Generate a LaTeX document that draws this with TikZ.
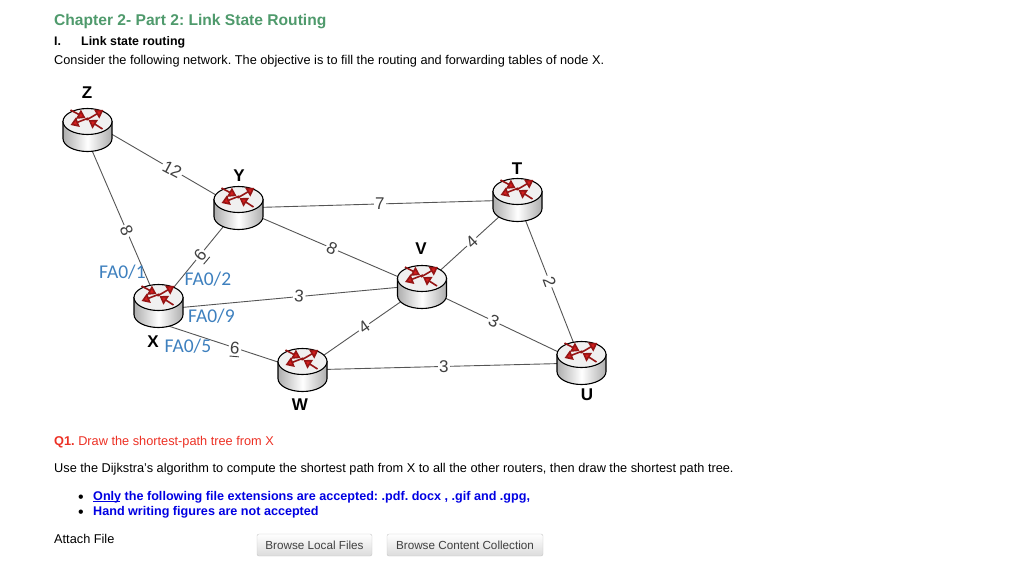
\documentclass[tikz,border=0pt]{standalone}
\usepackage{fontspec}
\setmainfont{Liberation Sans}
\newfontfamily\labelfont{Carlito}
\usetikzlibrary{arrows.meta}
\definecolor{titlegreen}{RGB}{79,154,108}
\definecolor{qred}{RGB}{236,48,36}
\definecolor{noteblue}{RGB}{0,0,226}
\definecolor{portblue}{RGB}{62,128,190}
\definecolor{arrowred}{RGB}{215,30,30}
\definecolor{wiregray}{RGB}{85,85,85}
\newcommand{\barsix}{\smash{\rlap{\rule[-3.2pt]{9.5pt}{.9pt}}}6}
\tikzset{
 router/.style={circle,minimum size=40pt,inner sep=0pt},
 rarrow/.style={arrowred!70!black,line width=1.6pt,-{Triangle[length=8pt,width=10pt,fill=arrowred]}},
 wire/.style={wiregray,line width=.9pt},
 cost/.style={fill=white,inner sep=1.5pt,text=black!75,font=\fontsize{17}{17}\selectfont},
 letter/.style={inner sep=0pt,font=\fontsize{17}{17}\selectfont\bfseries},
 port/.style={inner sep=0pt,anchor=base west,text=portblue,font=\labelfont\fontsize{19.5}{20}\selectfont},
 line/.style={inner sep=0pt,anchor=base west,font=\fontsize{12.75}{14}\selectfont},
 note/.style={line,text=noteblue,font=\fontsize{12.6}{14}\selectfont\bfseries},
 button/.style={draw=black!22,rounded corners=2pt,top color=white,bottom color=black!14,text=black!75,
  inner sep=0pt,minimum height=22pt,font=\fontsize{11.7}{13}\selectfont},
 routericon/.pic={
  \path[draw=black,line width=1.1pt,left color=black!32,right color=black!32,middle color=white]
   (-24.5,-8.5) -- (-24.5,8.5) arc[x radius=24.5,y radius=13,start angle=180,end angle=0] -- (24.5,-8.5) -- cycle;
  \draw[black,line width=1.1pt,fill=black!6] (0,-8.5) ellipse[x radius=24.5,y radius=13];
  \draw[rarrow] (-17,-20) -- (-2,-12);
  \draw[rarrow] (15,-1) -- (1,-10);
  \draw[rarrow] (-1,-10) -- (16,-20);
  \draw[rarrow] (1,-12) -- (-17,-5);
 }
}
\begin{document}
\frenchspacing
\begin{tikzpicture}[x=1pt,y=-1pt]
 \useasboundingbox (0,0) rectangle (1024,573);
 \node (title) [inner sep=0pt,anchor=base west,text=titlegreen,font=\fontsize{15.6}{16}\selectfont\bfseries] at (54,25) {Chapter 2- Part 2: Link State Routing};
 \node (secnum) [line,font=\fontsize{12.4}{14}\selectfont\bfseries] at (54,45) {I.};
 \node (sechead) [line,font=\fontsize{12.4}{14}\selectfont\bfseries] at (81,45) {Link state routing};
 \node (intro) [line] at (54,64.5) {Consider the following network. The objective is to fill the routing and forwarding tables of node X.};

 \node[router] (z) at (87.5,130) {};
 \node[router] (y) at (238.5,208) {};
 \node[router] (x) at (158.5,306) {};
 \node[router] (w) at (302.5,370) {};
 \node[router] (v) at (422,287) {};
 \node[router] (t) at (517.5,200) {};
 \node[router] (u) at (581.5,363) {};

 \draw[wire] (z.-5) -- node[cost,pos=.57,rotate=-28] {12} (y.150);
 \draw[wire] (z.-78) -- node[cost,pos=.59,rotate=-67] {8} (x.112);
 \draw[wire] (y.center) -- node[cost,pos=.48,rotate=50] {\barsix} (x.center);
 \draw[wire] (y.center) -- node[cost,pos=.507] {7} (t.center);
 \draw[wire] (y.center) -- node[cost,pos=.51,rotate=-27] {8} (v.center);
 \draw[wire] (x.-5) -- node[cost,pos=.54,rotate=-5] {3} (v.180);
 \draw[wire] (x.-70) -- node[cost,pos=.59,rotate=-5] {\barsix} (w.162);
 \draw[wire] (w.center) -- node[cost,pos=.515,rotate=35] {4} (v.center);
 \draw[wire] (v.center) -- node[cost,pos=.52,rotate=42] {4} (t.center);
 \draw[wire] (t.center) -- node[cost,pos=.5,rotate=-70] {2} (u.center);
 \draw[wire] (v.center) -- node[cost,pos=.45,rotate=-25] {3} (u.center);
 \draw[wire] (w.center) -- node[cost,pos=.507] {3} (u.center);

 \foreach \n in {z,y,x,w,v,t,u}
  \pic at (\n) {routericon};

 \node (zname) [letter] at (87,93) {Z};
 \node (yname) [letter] at (239,176) {Y};
 \node (tname) [letter] at (517,169) {T};
 \node (vname) [letter] at (421,249) {V};
 \node (xname) [letter] at (153,342) {X};
 \node (wname) [letter] at (300,405) {W};
 \node (uname) [letter] at (587,395) {U};

 \node (fa1) [port] at (99,278) {FA0/1};
 \node (fa2) [port] at (184.5,285) {FA0/2};
 \node (fa9) [port] at (188,322) {FA0/9};
 \node (fa5) [port] at (164.5,352) {FA0/5};

 \node (q1) [line,text=qred] at (54,445.5) {\textbf{Q1.} Draw the shortest-path tree from X};
 \node (dijkstra) [line] at (54,472.5) {Use the Dijkstra's algorithm to compute the shortest path from X to all the other routers, then draw the shortest path tree.};
 \node (bullet1) [line,font=\fontsize{16}{16}\selectfont] at (78,502.7) {•};
 \node (only) [note] at (93,500.5) {\smash{\rlap{\rule[-1.6pt]{27pt}{.7pt}}}Only the following file extensions are accepted: .pdf. docx , .gif and .gpg,};
 \node (bullet2) [line,font=\fontsize{16}{16}\selectfont] at (78,517.2) {•};
 \node (hand) [note] at (93,515) {Hand writing figures are not accepted};
 \node (attach) [line] at (54,543.5) {Attach File};
 \node (local) [button,minimum width=115pt] at (314.5,545) {Browse Local Files};
 \node (content) [button,minimum width=156pt] at (465,545) {Browse Content Collection};
\end{tikzpicture}
\end{document}
